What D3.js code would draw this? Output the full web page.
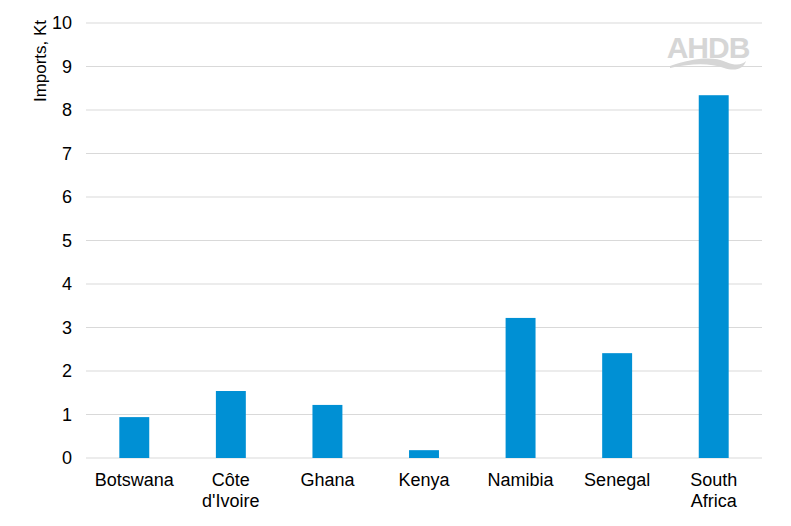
<!DOCTYPE html>
<html>
<head>
<meta charset="utf-8">
<script src="https://cdn.jsdelivr.net/npm/d3@7"></script>
<style>
  body { margin: 0; background: white; }
  text { font-family: "Liberation Sans", Arial, sans-serif; }
</style>
</head>
<body>
<div id="chart"></div>
<script>
// Chart data
const countries = ["Botswana", "Côte\nd'Ivoire", "Ghana", "Kenya", "Namibia", "Senegal", "South\nAfrica"];
const imports = [0.94, 1.54, 1.22, 0.18, 3.22, 2.41, 8.34];
const yTicks = [0, 1, 2, 3, 4, 5, 6, 7, 8, 9, 10];

const width = 791;
const height = 526;
const margin = { top: 23, right: 29, bottom: 68, left: 86 };

const svg = d3.select("#chart").append("svg")
  .attr("width", width)
  .attr("height", height);

const x = d3.scaleBand()
  .domain(countries)
  .range([margin.left, width - margin.right])
  .paddingInner(0.69)
  .paddingOuter(0.345);

const y = d3.scaleLinear()
  .domain([0, 10])
  .range([height - margin.bottom, margin.top]);

// gridlines
svg.append("g")
  .selectAll("line")
  .data(yTicks)
  .enter().append("line")
  .attr("x1", margin.left)
  .attr("x2", width - margin.right)
  .attr("y1", d => y(d))
  .attr("y2", d => y(d))
  .attr("stroke", "#d9d9d9")
  .attr("stroke-width", 1);

// y tick labels
svg.append("g")
  .selectAll("text")
  .data(yTicks)
  .enter().append("text")
  .attr("x", 72)
  .attr("y", d => y(d))
  .attr("dy", "0.35em")
  .attr("text-anchor", "end")
  .attr("font-size", 18)
  .attr("fill", "#000")
  .text(d => d);

// axis title
svg.append("text")
  .attr("transform", `translate(46, 61) rotate(-90)`)
  .attr("text-anchor", "middle")
  .attr("font-size", 17)
  .attr("fill", "#000")
  .text("Imports, Kt");

// logo watermark
const logo = svg.append("g").attr("transform", "translate(708, 58)");
logo.append("text")
  .attr("text-anchor", "middle")
  .attr("font-size", 30)
  .attr("font-weight", "bold")
  .attr("fill", "#d6d6d6")
  .attr("letter-spacing", -1)
  .text("AHDB");
logo.append("path")
  .attr("d", "M-38,8 C-15,0 5,-2 18,4 C28,8 34,7 38,3 C36,10 28,14 16,10 C2,5 -15,5 -38,10 Z")
  .attr("fill", "#d6d6d6");

// bars
svg.append("g")
  .selectAll("rect")
  .data(imports)
  .enter().append("rect")
  .attr("x", (d, i) => x(countries[i]))
  .attr("width", x.bandwidth())
  .attr("y", d => y(d))
  .attr("height", d => y(0) - y(d))
  .attr("fill", "#0090d4");

// x labels
const xl = svg.append("g")
  .selectAll("text")
  .data(countries)
  .enter().append("text")
  .attr("x", d => x(d) + x.bandwidth() / 2)
  .attr("y", 486)
  .attr("text-anchor", "middle")
  .attr("font-size", 18)
  .attr("fill", "#000");

xl.selectAll("tspan")
  .data(d => d.split("\n"))
  .enter().append("tspan")
  .attr("x", function () { return d3.select(this.parentNode).attr("x"); })
  .attr("dy", (d, i) => i === 0 ? 0 : 21)
  .text(d => d);
</script>
</body>
</html>
